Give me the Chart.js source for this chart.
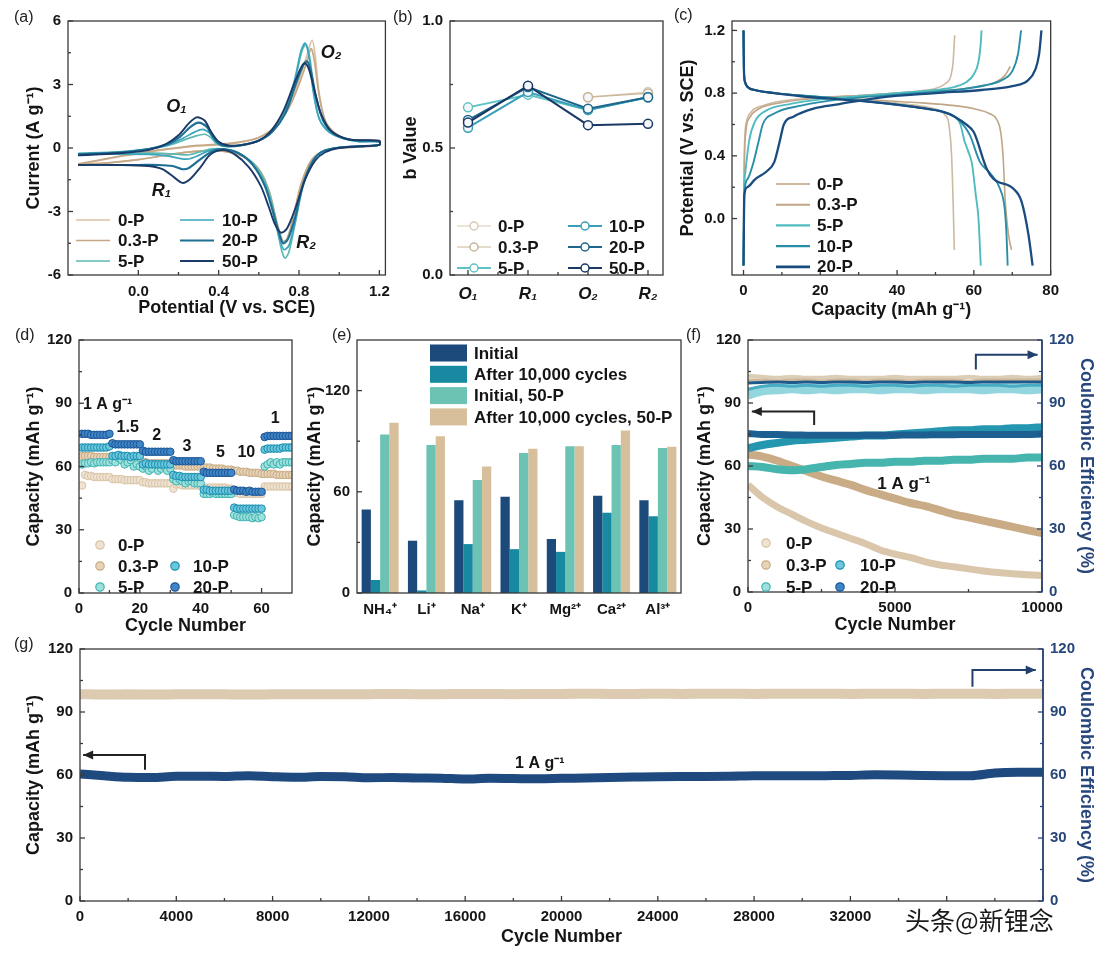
<!DOCTYPE html>
<html>
<head>
<meta charset="utf-8">
<script src="https://cdn.jsdelivr.net/npm/chart.js@4.4.1/dist/chart.umd.min.js"></script>
<style>
  body { margin: 0; background: #fff; width: 1108px; height: 960px; position: relative; overflow: hidden; font-family: "Liberation Sans", Arial, sans-serif; }
  canvas { position: absolute; }
  .tag { position: absolute; font-size: 16px; color: #222; }
  .wm { position: absolute; left: 905px; top: 901px; font: 25px "Noto Sans CJK SC", sans-serif; color: #1a1a1a;
        text-shadow: 0 0 2px #fff, 0 0 2px #fff, 1px 1px 0 #fff, -1px -1px 0 #fff; }
</style>
</head>
<body>
<canvas id="pa"></canvas><canvas id="pb"></canvas><canvas id="pc"></canvas>
<canvas id="pd"></canvas><canvas id="pe"></canvas><canvas id="pf"></canvas>
<canvas id="pg"></canvas>
<div class="tag" style="left:14px;top:8px">(a)</div>
<div class="tag" style="left:393px;top:8px">(b)</div>
<div class="tag" style="left:674px;top:6px">(c)</div>
<div class="tag" style="left:15px;top:326px">(d)</div>
<div class="tag" style="left:332px;top:326px">(e)</div>
<div class="tag" style="left:686px;top:326px">(f)</div>
<div class="tag" style="left:14px;top:635px">(g)</div>
<div class="wm">头条@新锂念</div>
<script>
// ---------- (a) CV loops, [potential V, current A/g] ----------
const cv0P = [[-0.3,-0.78],[-0.2,-0.6],[-0.1,-0.42],[0,-0.28],[0.1,-0.12],[0.2,0.0],[0.3,0.1],[0.4,0.15],[0.5,0.25],[0.6,0.5],[0.68,1.0],[0.75,2.0],[0.8,3.2],[0.84,4.4],[0.865,5.1],[0.88,4.4],[0.9,2.6],[0.93,1.3],[0.98,0.7],[1.05,0.4],[1.2,0.35],
  [1.2,0.15],[1.1,0.05],[1.0,0.0],[0.92,-0.15],[0.86,-0.6],[0.81,-1.8],[0.77,-3.4],[0.74,-4.4],[0.72,-4.5],[0.69,-3.6],[0.65,-2.0],[0.6,-1.0],[0.52,-0.4],[0.42,-0.15],[0.3,-0.15],[0.2,-0.25],[0.1,-0.4],[0,-0.55],[-0.15,-0.7],[-0.3,-0.8]];
const cv03P = [[-0.3,-0.75],[-0.2,-0.58],[-0.1,-0.4],[0,-0.25],[0.1,-0.1],[0.2,0.02],[0.3,0.12],[0.4,0.18],[0.5,0.28],[0.6,0.5],[0.68,1.0],[0.75,1.9],[0.8,3.0],[0.84,4.1],[0.86,4.7],[0.875,4.2],[0.9,2.5],[0.93,1.3],[0.98,0.7],[1.05,0.4],[1.2,0.33],
  [1.2,0.15],[1.1,0.05],[1.0,0.0],[0.92,-0.15],[0.86,-0.6],[0.81,-1.7],[0.77,-3.3],[0.74,-4.3],[0.72,-4.4],[0.69,-3.5],[0.65,-2.0],[0.6,-1.0],[0.52,-0.4],[0.42,-0.15],[0.3,-0.15],[0.2,-0.25],[0.1,-0.4],[0,-0.55],[-0.15,-0.7],[-0.3,-0.78]];
const cv5P = [[-0.3,-0.25],[-0.1,-0.18],[0.05,-0.05],[0.15,0.12],[0.22,0.35],[0.28,0.55],[0.33,0.65],[0.36,0.5],[0.39,0.2],[0.44,0.06],[0.52,0.12],[0.6,0.35],[0.67,0.8],[0.73,1.7],[0.78,3.2],[0.815,4.6],[0.835,4.9],[0.855,4.2],[0.875,2.6],[0.9,1.4],[0.95,0.75],[1.02,0.45],[1.1,0.3],[1.2,0.3],
  [1.2,0.15],[1.1,0.08],[1.0,0.02],[0.92,-0.15],[0.87,-0.6],[0.82,-1.8],[0.78,-3.6],[0.75,-4.9],[0.73,-5.2],[0.71,-4.7],[0.68,-3.2],[0.64,-1.8],[0.58,-0.8],[0.5,-0.25],[0.42,-0.05],[0.36,-0.05],[0.3,-0.2],[0.25,-0.32],[0.2,-0.3],[0.12,-0.25],[0,-0.25],[-0.3,-0.3]];
const cv10P = [[-0.3,-0.28],[-0.1,-0.2],[0.05,-0.05],[0.15,0.15],[0.22,0.45],[0.28,0.75],[0.32,0.88],[0.355,0.7],[0.38,0.35],[0.42,0.1],[0.5,0.12],[0.6,0.35],[0.67,0.8],[0.73,1.7],[0.78,3.3],[0.81,4.6],[0.83,4.95],[0.85,4.3],[0.87,2.7],[0.9,1.4],[0.95,0.75],[1.02,0.45],[1.1,0.3],[1.2,0.32],
  [1.2,0.15],[1.1,0.08],[1.0,0.02],[0.92,-0.15],[0.87,-0.6],[0.82,-1.8],[0.78,-3.5],[0.75,-4.6],[0.725,-4.8],[0.7,-4.2],[0.67,-3.0],[0.63,-1.7],[0.57,-0.8],[0.5,-0.25],[0.42,-0.05],[0.36,-0.1],[0.3,-0.35],[0.25,-0.52],[0.21,-0.5],[0.15,-0.38],[0.05,-0.3],[-0.3,-0.3]];
const cv20P = [[-0.3,-0.3],[-0.1,-0.22],[0.05,-0.05],[0.15,0.2],[0.21,0.55],[0.26,1.0],[0.3,1.2],[0.34,1.0],[0.37,0.55],[0.41,0.15],[0.5,0.12],[0.6,0.35],[0.67,0.8],[0.73,1.6],[0.78,2.9],[0.82,3.9],[0.84,4.1],[0.86,3.6],[0.885,2.4],[0.92,1.3],[0.97,0.7],[1.05,0.4],[1.2,0.3],
  [1.2,0.15],[1.1,0.08],[1.0,0.02],[0.92,-0.15],[0.87,-0.6],[0.82,-1.7],[0.78,-3.3],[0.745,-4.3],[0.72,-4.5],[0.7,-4.0],[0.67,-3.0],[0.63,-1.8],[0.57,-0.8],[0.5,-0.25],[0.42,-0.05],[0.36,-0.2],[0.3,-0.6],[0.25,-0.95],[0.22,-1.0],[0.17,-0.85],[0.1,-0.8],[0,-0.8],[-0.3,-0.8]];
const cv50P = [[-0.3,-0.35],[-0.1,-0.25],[0.05,-0.1],[0.14,0.2],[0.2,0.6],[0.25,1.15],[0.29,1.45],[0.33,1.3],[0.36,0.8],[0.4,0.3],[0.45,0.12],[0.52,0.15],[0.6,0.35],[0.66,0.8],[0.72,1.7],[0.77,2.9],[0.81,3.8],[0.83,4.0],[0.85,3.7],[0.88,2.6],[0.91,1.6],[0.96,0.8],[1.05,0.4],[1.2,0.35],
  [1.2,0.15],[1.1,0.08],[1.0,0.0],[0.93,-0.2],[0.88,-0.6],[0.83,-1.5],[0.78,-2.9],[0.74,-3.8],[0.71,-4.0],[0.68,-3.6],[0.65,-2.8],[0.61,-1.8],[0.55,-0.9],[0.48,-0.3],[0.42,-0.1],[0.36,-0.3],[0.31,-0.9],[0.26,-1.45],[0.22,-1.65],[0.18,-1.4],[0.12,-1.0],[0.05,-0.85],[-0.1,-0.8],[-0.3,-0.8]];

// ---------- (b) b values at each peak ----------
const bSites = ['O₁', 'R₁', 'O₂', 'R₂'];
const b0P  = [null, null, 0.70, 0.72];
const b03P = [null, null, 0.70, 0.715];
const b5P  = [0.66, 0.71, 0.65, 0.70];
const b10P = [0.58, 0.72, 0.65, 0.70];
const b20P = [0.61, 0.74, 0.655, 0.70];
const b50P = [0.60, 0.745, 0.59, 0.595];

// ---------- (c) GCD curves, [capacity mAh/g, potential V] ----------
const chg0P = [[0,-0.3],[0.1,0.2],[0.3,0.5],[0.8,0.62],[2,0.68],[5,0.72],[10,0.75],[20,0.77],[30,0.785],[40,0.8],[46,0.815],[50,0.83],[52.5,0.86],[54,0.91],[54.6,1.0],[55,1.17]];
const dch0P = [[0,1.2],[0.1,0.95],[0.4,0.87],[1,0.84],[3,0.82],[8,0.8],[15,0.785],[25,0.77],[35,0.75],[42,0.73],[48,0.71],[51,0.69],[52.5,0.66],[53.5,0.6],[54.2,0.4],[54.6,0.1],[54.9,-0.2]];
const chg03P = [[0,-0.3],[0.2,0.3],[0.6,0.55],[1.5,0.64],[4,0.7],[10,0.74],[20,0.77],[30,0.785],[40,0.8],[50,0.815],[58,0.83],[63,0.85],[66,0.875],[68,0.91],[69.5,0.97]];
const dch03P = [[0,1.2],[0.1,0.95],[0.4,0.87],[1,0.84],[3,0.82],[8,0.8],[15,0.785],[25,0.77],[35,0.755],[45,0.74],[55,0.72],[60,0.7],[64,0.67],[66,0.63],[67,0.55],[67.6,0.4],[68.2,0.1],[69,-0.1],[69.8,-0.2]];
const chg5P = [[0,-0.3],[0.15,0.15],[0.5,0.3],[1.5,0.5],[3,0.62],[6,0.69],[12,0.73],[20,0.76],[30,0.78],[40,0.8],[50,0.82],[55,0.84],[58,0.87],[60,0.92],[61.2,1.0],[61.8,1.12],[62,1.2]];
const dch5P = [[0,1.2],[0.1,0.95],[0.4,0.87],[1,0.84],[3,0.82],[8,0.8],[15,0.785],[25,0.765],[35,0.74],[45,0.71],[52,0.68],[55,0.65],[56.5,0.6],[57.5,0.5],[58.5,0.43],[59.5,0.35],[60.5,0.15],[61.2,0],[61.8,-0.3]];
const chg10P = [[0,-0.3],[0.2,0.15],[1,0.25],[2.5,0.35],[4,0.5],[5,0.6],[8,0.67],[15,0.72],[25,0.76],[40,0.79],[55,0.82],[63,0.85],[67,0.88],[70,0.94],[71.5,1.05],[72.3,1.2]];
const dch10P = [[0,1.2],[0.1,0.95],[0.4,0.87],[1,0.84],[3,0.82],[8,0.8],[15,0.785],[25,0.765],[35,0.74],[45,0.71],[52,0.68],[55,0.65],[57.5,0.59],[59,0.53],[61.6,0.36],[64.2,0.29],[66.8,0.19],[68,0.07],[68.5,-0.1],[68.8,-0.3]];
const chg20P = [[0,-0.3],[0.2,0.15],[1,0.2],[3,0.25],[6,0.3],[8,0.36],[9.5,0.5],[10.5,0.6],[13,0.65],[18,0.7],[25,0.73],[35,0.77],[50,0.8],[62,0.82],[70,0.845],[74,0.88],[76,0.95],[77,1.05],[77.6,1.2]];
const dch20P = [[0,1.2],[0.1,0.95],[0.4,0.87],[1,0.84],[3,0.82],[8,0.8],[15,0.78],[25,0.76],[35,0.74],[45,0.71],[52,0.68],[55,0.65],[58,0.6],[60,0.55],[63.3,0.32],[65,0.255],[70.3,0.19],[72.4,0.11],[74.2,-0.1],[75.3,-0.3]];

// ---------- (d) rate capability, capacity per cycle 1..70 ----------
const d0P = [51,56,55.5,55.5,55,55,55,55,55,55, 54,54,54,54,53.5,53.5,53.5,53.5,53.5,53.5, 52.5,52.5,52,52,52,52,52,52,52,52,
  49.5,51.5,51.5,51,51,51,51,51,51,51, 50,50,50,50,50,50,50,50,49.5,49.5, 47.5,47.5,47,47,47,47,47,47,47,47, 50.5,50.5,50.5,50.5,50.5,50.5,50.5,50.5,50.5,50.5];
const d03P = [65,65,65,65,64.5,64.5,64.5,64.5,64.5,64.5, 63.5,63.5,63.5,63,63,63,63,63,63,63, 62,62,61.5,61.5,61.5,61.5,61.5,61.5,61.5,61.5,
  60.5,60.5,60.5,60.5,60,60,60,60,60,60, 59.5,59.5,59.5,59,59,59,59,58.5,58.5,58.5, 58,58,57.5,57.5,57.5,57,57,57,57,56.5, 56.5,56.5,56.5,56.5,56,56,56,56,56,56];
const d5P = [61,61.5,61.5,62,61.5,62,62,62,62,62, 63,62,64,63,61,62,63,60,61,60, 59,60,58,59,61,58,59,60,58,59,
  54,53,54,53,52,53,53,52,52,52, 47,47,47,47.5,47,47,47,47,47,47, 37,36.5,36,36,36,36,35.5,36,35.5,36, 60,61,62,61,62,61,62,62,62,62];
const d10P = [69,69,69,69,69,69,69,69,69,69.5, 65,65,65.5,65,65,65,64.5,65,65,65, 61,61.5,61,61,61,61,61,61,61,61,
  56,55.5,55.5,55,55,55,55,55,55,55, 49,49,48.5,48.5,48.5,48.5,48.5,48.5,48.5,48.5, 40.5,40,40,40,40,40,40,40,40,40, 68,68.5,68.5,68.5,68.5,68.5,69,69,69,69];
const d20P = [75.5,75.5,75.5,75,75,75,75,75,75,75.5, 71,70.5,70.5,70.5,70.5,70.5,70.5,70.5,70.5,70.5, 67.5,67,67,67,67,67,67,67,67,67,
  63,62.5,62.5,62.5,62.5,62.5,62.5,62.5,62.5,62.5, 57.5,57,57,57,57,57,57,57,57,57, 49,48.5,48.5,48.5,48,48.5,48,48,48,48, 74,74.5,74.5,74.5,74.5,74.5,74.5,74.5,74.5,74.5];

// ---------- (e) capacity in different electrolytes ----------
const eIons = ['NH₄⁺', 'Li⁺', 'Na⁺', 'K⁺', 'Mg²⁺', 'Ca²⁺', 'Al³⁺'];
const eInitial = [49.5, 31, 55, 57, 32, 57.7, 55];
const eAfter = [7.7, 1.5, 29, 26, 24.4, 47.6, 45.5];
const eInitial50 = [94, 87.7, 67, 83, 87, 87.7, 86];
const eAfter50 = [101, 93, 75, 85.5, 87, 96.4, 86.7];

// ---------- (f) long cycling at 1 A/g, sampled every 500 cycles ----------
const fCycles = [0,500,1000,1500,2000,2500,3000,3500,4000,4500,5000,5500,6000,6500,7000,7500,8000,8500,9000,9500,10000];
const fCap0P = [51,45,40.5,37,33.5,30.5,28,25.5,23,20,18,16.5,14.5,13,12,11,10,9.3,8.7,8.2,7.8];
const fCap03P = [65.5,64.5,62.5,60,57.5,55,53,51,48.5,46.5,44.5,42.5,41,39,37,35.5,34,32.5,31,29.5,28];
const fCap5P = [60,59.5,58.5,58,58.5,59.5,60.5,61,61.5,61.5,62,62,62.5,62.5,63,63,63.5,63.5,63.5,64,64];
const fCap10P = [68.5,70,71,72,72.5,73,73.5,74,74.5,74.5,75,75.5,76,76.5,77,77,77.5,77.5,78,78,78.5];
const fCap20P = [75.5,75,75,74.8,74.7,74.6,74.6,74.6,74.6,74.7,74.7,74.8,74.8,74.9,74.9,75,75,75,75,75,75.2];
const fCE0P = [103,102.5,102,102.5,102,102,102.5,102,102,102,102.5,102,102,102,102,102.5,102,102,102.5,102,102.5];
const fCE03P = [101,101,100.5,101,101,100.5,101,101,100.5,101,101,100.5,101,101,101,100.5,101,101,101,101,101];
const fCE5P = [94,96,96.5,97,96.5,97,96.5,97,97,96.5,97,97,96.5,97,97,97,96.5,97,97,96.5,97];
const fCE10P = [96.5,98,98.5,98,98.5,98,98.5,98.5,98,98.5,98.5,98,98.5,98.5,98,98.5,98.5,98.5,98,98.5,98.5];
const fCE20P = [99.5,99.8,100,99.8,100,99.8,100,100,99.8,100,100,99.8,100,100,100,99.8,100,100,100,100,100];

// ---------- (g) 50-P over 40,000 cycles, sampled every 1000 cycles ----------
const gCycles = [0,1000,2000,3000,4000,5000,6000,7000,8000,9000,10000,11000,12000,13000,14000,15000,16000,17000,18000,19000,20000,
  21000,22000,23000,24000,25000,26000,27000,28000,29000,30000,31000,32000,33000,34000,35000,36000,37000,38000,39000,40000];
const gCap = [60.5,59.6,58.9,58.8,59.4,59.4,59.3,59.7,59.2,58.9,59.3,59.2,58.7,58.8,58.6,58.5,58.1,58.4,58.3,58.2,58.4,
  58.6,58.8,59.0,59.2,59.3,59.3,59.4,59.6,59.6,59.6,59.7,59.8,60.1,60.0,59.8,59.7,59.7,61.0,61.3,61.3];
const gCE = [98.5,98.3,98.4,98.3,98.4,98.5,98.4,98.3,98.4,98.5,98.5,98.4,98.5,98.6,98.5,98.5,98.6,98.6,98.5,98.6,98.6,
  98.7,98.6,98.6,98.7,98.6,98.7,98.7,98.6,98.7,98.7,98.7,98.6,98.7,98.7,98.6,98.7,98.7,98.6,98.7,98.7];

// ---------- styling ----------
const ink = '#151515';
const navyAxis = '#27467a';
const FAM = '"Liberation Sans", Arial, sans-serif';
const tickFont = { family: FAM, size: 15, weight: 'bold' };
const titleFont = { family: FAM, size: 18, weight: 'bold', lineHeight: 1.2 };
const keyFont = 'bold 17px ' + FAM;
Chart.defaults.font.family = FAM;
Chart.defaults.color = ink;
Chart.defaults.animation = false;
Chart.defaults.events = [];

const pts = arr => arr.map(p => ({ x: p[0], y: p[1] }));
const along = (xs, ys) => ys.map((v, i) => ({ x: xs[i], y: v }));

// frame box with inward ticks
const framePlugin = {
  id: 'frame',
  afterDatasetsDraw(chart, args, o) {
    const { ctx, chartArea: a } = chart;
    ctx.save();
    ctx.lineWidth = 1.3;
    ctx.strokeStyle = '#3a3a3a';
    ctx.strokeRect(a.left, a.top, a.right - a.left, a.bottom - a.top);
    Object.values(chart.scales).forEach(s => {
      if (s.type !== 'linear' || !s.ticks.length) return;
      const vals = s.ticks.map(t => t.value);
      const marks = vals.map(v => [v, 5]);
      for (let i = 0; i < vals.length - 1; i++) marks.push([(vals[i] + vals[i + 1]) / 2, 3]);
      ctx.strokeStyle = s.position === 'right' && o.right ? o.right : '#3a3a3a';
      marks.forEach(([v, len]) => {
        const p = s.getPixelForValue(v);
        ctx.beginPath();
        if (s.position === 'left') { ctx.moveTo(a.left, p); ctx.lineTo(a.left + len, p); }
        else if (s.position === 'right') { ctx.moveTo(a.right, p); ctx.lineTo(a.right - len, p); }
        else { ctx.moveTo(p, a.bottom); ctx.lineTo(p, a.bottom - len); }
        ctx.stroke();
      });
    });
    if (o.right) {
      ctx.strokeStyle = o.right; ctx.lineWidth = 1.6;
      ctx.beginPath(); ctx.moveTo(a.right, a.top); ctx.lineTo(a.right, a.bottom); ctx.stroke();
    }
    ctx.restore();
  }
};

// legend laid out in a grid inside the plot
const keysPlugin = {
  id: 'keys',
  afterDatasetsDraw(chart, args, o) {
    if (!o.items) return;
    const { ctx, chartArea: a } = chart;
    ctx.save();
    ctx.font = keyFont;
    ctx.textBaseline = 'middle';
    o.items.forEach(it => {
      const x = a.left + o.x + it.col * o.colW;
      const y = a.top + o.y + it.row * o.rowH;
      if (o.symbol === 'line') {
        ctx.strokeStyle = it.color; ctx.lineWidth = it.w || 2;
        ctx.beginPath(); ctx.moveTo(x, y); ctx.lineTo(x + o.symW, y); ctx.stroke();
        if (o.marker) {
          ctx.fillStyle = '#fff'; ctx.lineWidth = 1.5;
          ctx.beginPath(); ctx.arc(x + o.symW / 2, y, 4, 0, Math.PI * 2); ctx.fill(); ctx.stroke();
        }
      } else if (o.symbol === 'point') {
        ctx.fillStyle = it.fill || it.color; ctx.strokeStyle = it.color; ctx.lineWidth = 1.2;
        ctx.beginPath(); ctx.arc(x + 4, y, 4.2, 0, Math.PI * 2); ctx.fill(); ctx.stroke();
      } else {
        ctx.fillStyle = it.color;
        ctx.fillRect(x, y - o.boxH / 2, o.symW, o.boxH);
      }
      ctx.fillStyle = ink;
      ctx.fillText(it.label, x + o.symW + o.gap, y + 1);
    });
    ctx.restore();
  }
};

// text labels and arrows placed in data coordinates
const notesPlugin = {
  id: 'notes',
  afterDatasetsDraw(chart, args, o) {
    const ctx = chart.ctx, sx = chart.scales.x;
    ctx.save();
    (o.arrows || []).forEach(ar => {
      const sy = chart.scales[ar.axis || 'y'];
      const p = ar.pts.map(q => [sx.getPixelForValue(q[0]), sy.getPixelForValue(q[1])]);
      ctx.strokeStyle = ar.color; ctx.fillStyle = ar.color; ctx.lineWidth = 2;
      ctx.beginPath();
      p.forEach((q, i) => (i ? ctx.lineTo(q[0], q[1]) : ctx.moveTo(q[0], q[1])));
      ctx.stroke();
      const [x1, y1] = p[p.length - 2], [x2, y2] = p[p.length - 1];
      const an = Math.atan2(y2 - y1, x2 - x1), L = 10, W = 4.5;
      ctx.beginPath();
      ctx.moveTo(x2, y2);
      ctx.lineTo(x2 - L * Math.cos(an) + W * Math.sin(an), y2 - L * Math.sin(an) - W * Math.cos(an));
      ctx.lineTo(x2 - L * Math.cos(an) - W * Math.sin(an), y2 - L * Math.sin(an) + W * Math.cos(an));
      ctx.closePath(); ctx.fill();
    });
    (o.texts || []).forEach(t => {
      const sy = chart.scales[t.axis || 'y'];
      ctx.font = t.font || o.font || ('bold 16px ' + FAM);
      ctx.fillStyle = ink; ctx.textAlign = 'center'; ctx.textBaseline = 'middle';
      ctx.fillText(t.t, sx.getPixelForValue(t.x), sy.getPixelForValue(t.y));
    });
    ctx.restore();
  }
};

// place a canvas so that its plot area lands on `area`
function place(id, box, area, rightAxis) {
  const c = document.getElementById(id);
  c.style.left = box.l + 'px'; c.style.top = box.t + 'px';
  c.width = box.r - box.l; c.height = box.b - box.t;
  return {
    el: c,
    pad: { left: 0, bottom: 0, top: area.t - box.t, right: rightAxis ? 0 : box.r - area.r },
    yW: area.l - box.l, xH: box.b - area.b, y2W: box.r - area.r
  };
}

function lin(o) {
  return {
    type: 'linear', position: o.pos, min: o.min, max: o.max,
    afterBuildTicks: s => { s.ticks = o.ticks.map(v => ({ value: v })); },
    afterFit: s => { if (o.w != null) s.width = o.w; if (o.h != null) s.height = o.h; },
    grid: { display: false, drawTicks: false },
    border: { display: false },
    ticks: { padding: o.pad || 7, color: o.color || ink, font: tickFont, callback: o.fmt || (v => v) },
    title: { display: !!o.title, text: o.title, padding: 0, color: o.color || ink, font: titleFont }
  };
}

function base(g, scales, plugins) {
  return {
    responsive: false,
    layout: { padding: g.pad },
    scales,
    plugins: Object.assign({ legend: { display: false }, tooltip: { enabled: false } }, plugins)
  };
}
const usePlugins = [framePlugin, keysPlugin, notesPlugin];

// ================= (a) =================
{
  const g = place('pa', { l: 23, t: 5, r: 398, b: 319 }, { l: 68, t: 18, r: 388, b: 275 });
  const cvSeries = [
    { label: '0-P', d: cv0P, c: '#dcc1a7', w: 1.7 },
    { label: '0.3-P', d: cv03P, c: '#c5a886', w: 1.7 },
    { label: '5-P', d: cv5P, c: '#5db8b0', w: 1.7 },
    { label: '10-P', d: cv10P, c: '#3aa6bf', w: 1.7 },
    { label: '20-P', d: cv20P, c: '#1d6f94', w: 2.1 },
    { label: '50-P', d: cv50P, c: '#1a3a68', w: 1.9 }
  ];
  new Chart(g.el, {
    type: 'scatter',
    data: { datasets: cvSeries.map((s, i) => ({ label: s.label, data: pts(s.d), showLine: true, borderColor: s.c, borderWidth: s.w, pointRadius: 0, tension: 0.3, order: 10 - i })) },
    options: base(g, {
      x: lin({ pos: 'bottom', min: -0.35, max: 1.23, ticks: [0, 0.4, 0.8, 1.2], fmt: v => v.toFixed(1), title: 'Potential (V vs. SCE)', h: g.xH, pad: 8 }),
      y: lin({ pos: 'left', min: -6, max: 6, ticks: [-6, -3, 0, 3, 6], title: 'Current (A g⁻¹)', w: g.yW })
    }, {
      keys: { symbol: 'line', x: 8, y: 199, rowH: 20.5, colW: 104, symW: 34, gap: 8,
        items: cvSeries.map((s, i) => ({ label: s.label, color: s.c, w: s.w, col: Math.floor(i / 3), row: i % 3 })) },
      notes: { font: 'italic bold 18px ' + FAM, texts: [
        { x: 0.19, y: 1.95, t: 'O₁' }, { x: 0.96, y: 4.5, t: 'O₂' },
        { x: 0.115, y: -2.05, t: 'R₁' }, { x: 0.835, y: -4.5, t: 'R₂' }] }
    }),
    plugins: usePlugins
  });
}

// ================= (b) =================
{
  const g = place('pb', { l: 400, t: 5, r: 675, b: 312 }, { l: 450, t: 17, r: 663, b: 275 });
  const bSeries = [
    { label: '0-P', v: b0P, c: '#d9c8b3', w: 1.2 },
    { label: '0.3-P', v: b03P, c: '#c9b599', w: 1.2 },
    { label: '5-P', v: b5P, c: '#5ec1c3', w: 2 },
    { label: '10-P', v: b10P, c: '#3a9fb8', w: 2 },
    { label: '20-P', v: b20P, c: '#1e678c', w: 2 },
    { label: '50-P', v: b50P, c: '#1a3864', w: 2 }
  ];
  new Chart(g.el, {
    type: 'scatter',
    data: { datasets: bSeries.map((s, i) => ({
      label: s.label, showLine: true, order: 10 - i,
      data: s.v.map((y, k) => ({ x: k, y })).filter(p => p.y !== null),
      borderColor: s.c, borderWidth: s.w, pointRadius: 4.5, pointBorderWidth: 1.5,
      pointBackgroundColor: '#f4f8fa', pointBorderColor: s.c })) },
    options: base(g, {
      x: Object.assign(lin({ pos: 'bottom', min: -0.3, max: 3.25, ticks: [0, 1, 2, 3], fmt: v => bSites[v], h: g.xH }),
        { ticks: { padding: 9, color: ink, font: { family: FAM, size: 17, weight: 'bold', style: 'italic' }, callback: v => bSites[v] } }),
      y: lin({ pos: 'left', min: 0, max: 1, ticks: [0, 0.5, 1], fmt: v => v.toFixed(1), title: 'b Value', w: g.yW })
    }, {
      keys: { symbol: 'line', marker: true, x: 7, y: 205, rowH: 21, colW: 111, symW: 34, gap: 7,
        items: bSeries.map((s, i) => ({ label: s.label, color: s.c, w: s.w, col: Math.floor(i / 3), row: i % 3 })) }
    }),
    plugins: usePlugins
  });
}

// ================= (c) =================
{
  const g = place('pc', { l: 677, t: 5, r: 1066, b: 321 }, { l: 732, t: 17, r: 1051, b: 275 });
  const cSeries = [
    { label: '0-P', chg: chg0P, dch: dch0P, c: '#cdb9a0', w: 1.6 },
    { label: '0.3-P', chg: chg03P, dch: dch03P, c: '#c0a686', w: 1.6 },
    { label: '5-P', chg: chg5P, dch: dch5P, c: '#4fbcc1', w: 1.9 },
    { label: '10-P', chg: chg10P, dch: dch10P, c: '#2b8ea8', w: 1.9 },
    { label: '20-P', chg: chg20P, dch: dch20P, c: '#1b4c7f', w: 2.3 }
  ];
  const sets = [];
  cSeries.forEach((s, i) => {
    [s.chg, s.dch].forEach(curve => sets.push({ label: s.label, data: pts(curve), showLine: true, borderColor: s.c,
      borderWidth: s.w, pointRadius: 0, cubicInterpolationMode: 'monotone', order: 10 - i }));
  });
  new Chart(g.el, {
    type: 'scatter',
    data: { datasets: sets },
    options: base(g, {
      x: lin({ pos: 'bottom', min: -3, max: 80, ticks: [0, 20, 40, 60, 80], title: 'Capacity (mAh g⁻¹)', h: g.xH }),
      y: lin({ pos: 'left', min: -0.36, max: 1.26, ticks: [0, 0.4, 0.8, 1.2], fmt: v => v.toFixed(1), title: 'Potential (V vs. SCE)', w: g.yW })
    }, {
      keys: { symbol: 'line', x: 44, y: 163, rowH: 20.7, colW: 0, symW: 34, gap: 7,
        items: cSeries.map((s, i) => ({ label: s.label, color: s.c, w: s.w + 0.5, col: 0, row: i })) }
    }),
    plugins: usePlugins
  });
}

// ================= (d) =================
const dotColors = {
  '0-P': ['#d9c3a6', '#efe3d2'], '0.3-P': ['#c9ab84', '#e6d3b8'],
  '5-P': ['#3fb4b2', '#9fe0dc'], '10-P': ['#1a8fb0', '#6cc6dc'], '20-P': ['#1d5596', '#3f86c6']
};
{
  const g = place('pd', { l: 23, t: 324, r: 302, b: 637 }, { l: 79, t: 336, r: 292, b: 593 });
  const dSeries = [
    { label: '0-P', v: d0P }, { label: '0.3-P', v: d03P }, { label: '5-P', v: d5P },
    { label: '10-P', v: d10P }, { label: '20-P', v: d20P }
  ];
  new Chart(g.el, {
    type: 'scatter',
    data: { datasets: dSeries.map((s, i) => ({
      label: s.label, order: 10 - i, data: s.v.map((y, k) => ({ x: k + 1, y })),
      pointRadius: 3.8, pointBorderWidth: 1, pointBorderColor: dotColors[s.label][0], pointBackgroundColor: dotColors[s.label][1] })) },
    options: base(g, {
      x: lin({ pos: 'bottom', min: 0, max: 70, ticks: [0, 20, 40, 60], title: 'Cycle Number', h: g.xH }),
      y: lin({ pos: 'left', min: 0, max: 120, ticks: [0, 30, 60, 90, 120], title: 'Capacity (mAh g⁻¹)', w: g.yW })
    }, {
      keys: { symbol: 'point', x: 17, y: 205, rowH: 21, colW: 75, symW: 8, gap: 14,
        items: [
          { label: '0-P', row: 0, col: 0 }, { label: '0.3-P', row: 1, col: 0 }, { label: '10-P', row: 1, col: 1 },
          { label: '5-P', row: 2, col: 0 }, { label: '20-P', row: 2, col: 1 }
        ].map(it => Object.assign(it, { color: dotColors[it.label][0], fill: dotColors[it.label][1] })) },
      notes: { texts: [
        { x: 9.4, y: 89.3, t: '1 A g⁻¹' }, { x: 16, y: 78.5, t: '1.5' }, { x: 25.5, y: 74.5, t: '2' },
        { x: 35.5, y: 69.5, t: '3' }, { x: 46.5, y: 66.5, t: '5' }, { x: 55, y: 66.5, t: '10' }, { x: 64.5, y: 82.5, t: '1' }] }
    }),
    plugins: usePlugins
  });
}

// ================= (e) =================
{
  const g = place('pe', { l: 304, t: 324, r: 690, b: 622 }, { l: 357, t: 335, r: 681, b: 593 });
  const eSeries = [
    { label: 'Initial', v: eInitial, c: '#1c4a7b' },
    { label: 'After 10,000 cycles', v: eAfter, c: '#178aa1' },
    { label: 'Initial, 50-P', v: eInitial50, c: '#6dc3b3' },
    { label: 'After 10,000 cycles, 50-P', v: eAfter50, c: '#d7bf9b' }
  ];
  new Chart(g.el, {
    type: 'bar',
    data: { labels: eIons, datasets: eSeries.map(s => ({ label: s.label, data: s.v, backgroundColor: s.c,
      categoryPercentage: 0.8, barPercentage: 1.0 })) },
    options: base(g, {
      x: { type: 'category', afterFit: s => { s.height = g.xH; }, grid: { display: false, drawTicks: false }, border: { display: false },
        ticks: { padding: 8, color: ink, font: tickFont } },
      y: lin({ pos: 'left', min: 0, max: 150, ticks: [0, 60, 120], title: 'Capacity (mAh g⁻¹)', w: g.yW })
    }, {
      keys: { symbol: 'box', x: 73, y: 13, rowH: 21.3, colW: 0, symW: 37, boxH: 17, gap: 7,
        items: eSeries.map((s, i) => ({ label: s.label, color: s.c, col: 0, row: i })) }
    }),
    plugins: usePlugins
  });
}

// ================= (f) =================
{
  const g = place('pf', { l: 694, t: 324, r: 1097, b: 636 }, { l: 748, t: 335, r: 1042, b: 592 }, true);
  const capSeries = [
    { label: '0-P', v: fCap0P, c: '#dac6aa', w: 7 }, { label: '0.3-P', v: fCap03P, c: '#c9ac86', w: 8 },
    { label: '5-P', v: fCap5P, c: '#45b5ad', w: 8 }, { label: '10-P', v: fCap10P, c: '#2496b0', w: 8 },
    { label: '20-P', v: fCap20P, c: '#1d5f90', w: 7 }
  ];
  const ceSeries = [
    { v: fCE5P, c: '#93d6de', w: 10 }, { v: fCE0P, c: '#dccdb6', w: 4 }, { v: fCE03P, c: '#cdb89b', w: 3 },
    { v: fCE10P, c: '#48acc4', w: 3 }, { v: fCE20P, c: '#1f5a8c', w: 3 }
  ];
  const sets = [];
  ceSeries.forEach((s, i) => sets.push({ data: along(fCycles, s.v), yAxisID: 'y2', showLine: true, borderColor: s.c,
    borderWidth: s.w, pointRadius: 0, cubicInterpolationMode: 'monotone', order: 40 - i }));
  capSeries.forEach((s, i) => sets.push({ label: s.label, data: along(fCycles, s.v), showLine: true,
    borderColor: s.c, borderWidth: s.w, pointRadius: 0, cubicInterpolationMode: 'monotone', order: 20 - i }));
  new Chart(g.el, {
    type: 'scatter',
    data: { datasets: sets },
    options: base(g, {
      x: lin({ pos: 'bottom', min: 0, max: 10000, ticks: [0, 5000, 10000], title: 'Cycle Number', h: g.xH }),
      y: lin({ pos: 'left', min: 0, max: 120, ticks: [0, 30, 60, 90, 120], title: 'Capacity (mAh g⁻¹)', w: g.yW }),
      y2: lin({ pos: 'right', min: 0, max: 120, ticks: [0, 30, 60, 90, 120], title: 'Coulombic Efficiency (%)', color: navyAxis, w: g.y2W })
    }, {
      frame: { right: navyAxis },
      keys: { symbol: 'point', x: 14, y: 203, rowH: 22, colW: 74, symW: 8, gap: 16,
        items: [
          { label: '0-P', row: 0, col: 0 }, { label: '0.3-P', row: 1, col: 0 }, { label: '10-P', row: 1, col: 1 },
          { label: '5-P', row: 2, col: 0 }, { label: '20-P', row: 2, col: 1 }
        ].map(it => Object.assign(it, { color: dotColors[it.label][0], fill: dotColors[it.label][1] })) },
      notes: {
        font: 'bold 17px ' + FAM,
        texts: [{ x: 5300, y: 51.5, t: '1 A g⁻¹' }],
        arrows: [
          { pts: [[2250, 79.5], [2250, 86], [130, 86]], color: '#222' },
          { pts: [[7750, 106], [7750, 113], [9850, 113]], color: '#22406e' }
        ] }
    }),
    plugins: usePlugins
  });
}

// ================= (g) =================
{
  const g = place('pg', { l: 23, t: 633, r: 1097, b: 948 }, { l: 80, t: 645, r: 1043, b: 901 }, true);
  new Chart(g.el, {
    type: 'scatter',
    data: { datasets: [
      { label: 'Coulombic efficiency', data: along(gCycles, gCE), yAxisID: 'y2', showLine: true, borderColor: '#dccab1',
        borderWidth: 10, pointRadius: 0, cubicInterpolationMode: 'monotone' },
      { label: 'Capacity', data: along(gCycles, gCap), showLine: true, borderColor: '#1f4a80',
        borderWidth: 9, pointRadius: 0, cubicInterpolationMode: 'monotone' }
    ] },
    options: base(g, {
      x: lin({ pos: 'bottom', min: 0, max: 40000, ticks: [0, 4000, 8000, 12000, 16000, 20000, 24000, 28000, 32000, 36000, 40000],
        fmt: v => (v >= 36000 ? '' : v), title: 'Cycle Number', h: g.xH }),
      y: lin({ pos: 'left', min: 0, max: 120, ticks: [0, 30, 60, 90, 120], title: 'Capacity (mAh g⁻¹)', w: g.yW }),
      y2: lin({ pos: 'right', min: 0, max: 120, ticks: [0, 30, 60, 90, 120], title: 'Coulombic Efficiency (%)', color: navyAxis, w: g.y2W })
    }, {
      frame: { right: navyAxis },
      notes: {
        texts: [{ x: 19100, y: 65.5, t: '1 A g⁻¹' }],
        arrows: [
          { pts: [[2700, 62.5], [2700, 69.5], [130, 69.5]], color: '#222' },
          { pts: [[37070, 102], [37070, 110], [39700, 110]], color: '#22406e' }
        ] }
    }),
    plugins: usePlugins
  });
}
</script>
</body>
</html>
